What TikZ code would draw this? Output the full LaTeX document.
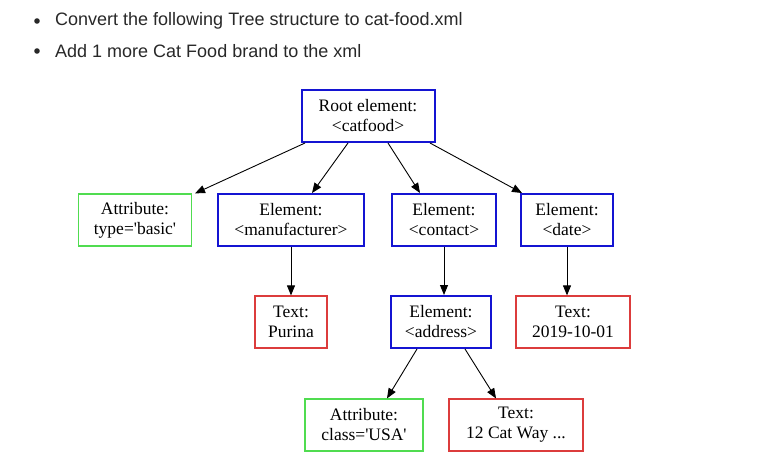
\documentclass[tikz,border=0pt]{standalone}
\usepackage{fontspec}
\setmainfont{Liberation Serif}[Ligatures=TeXOff]
\newfontfamily\sans{Liberation Sans}
\usetikzlibrary{arrows.meta}
\definecolor{bl}{RGB}{20,20,210}
\definecolor{gr}{RGB}{80,220,80}
\definecolor{rd}{RGB}{220,60,60}
\definecolor{tx}{RGB}{40,40,40}
\begin{document}
\begin{tikzpicture}[x=1pt,y=-1pt,
  box/.style={align=center,inner sep=0pt,font=\fontsize{17.5}{20}\selectfont,minimum height=52},
  el/.style={box,draw=bl,line width=2pt},
  atb/.style={box,draw=gr,line width=1.2pt},
  te/.style={box,draw=rd,line width=1.2pt},
  ar/.style={-{Triangle[length=10pt,width=8pt]},line width=0.9pt},
  bul/.style={font=\sans\fontsize{18}{20}\selectfont,text=tx,anchor=west,inner sep=0pt}]
\useasboundingbox (0,0) rectangle (762,467);
\fill[tx] (37,21) circle (2.8) (37,51) circle (2.8);
\node[bul] (b1) at (55,21) {Convert the following Tree structure to cat-food.xml};
\node[bul] (b2) at (55,51) {Add 1 more Cat Food brand to the xml};
\node[el,minimum width=133] (root) at (368,116) {Root element:\\<catfood>};
\node[atb,minimum width=113] (a1) at (135,220) {Attribute:\\type='basic'};
\node[el,minimum width=146] (man) at (291,220) {Element:\\<manufacturer>};
\node[el,minimum width=104] (con) at (444,220) {Element:\\<contact>};
\node[el,minimum width=92] (dat) at (567,220) {Element:\\<date>};
\node[te,minimum width=72] (pur) at (291,322) {Text:\\Purina};
\node[el,minimum width=100] (adr) at (441,322) {Element:\\<address>};
\node[te,minimum width=114] (d19) at (573,322) {Text:\\2019-10-01};
\node[atb,minimum width=118] (a2) at (364,425) {Attribute:\\class='USA'};
\node[te,minimum width=134] (cat) at (516,425) {Text:\\12 Cat Way ...};
\draw[ar] ([xshift=-63]root.south) -- ([xshift=60]a1.north);
\draw[ar] ([xshift=-20]root.south) -- ([xshift=21]man.north);
\draw[ar] ([xshift=20]root.south) -- ([xshift=-24]con.north);
\draw[ar] ([xshift=62]root.south) -- ([xshift=-45]dat.north);
\draw[ar] (man.south) -- (pur.north);
\draw[ar] (con.south) -- ([xshift=3]adr.north);
\draw[ar] (dat.south) -- ([xshift=-6]d19.north);
\draw[ar] ([xshift=-24]adr.south) -- ([xshift=23]a2.north);
\draw[ar] ([xshift=24]adr.south) -- ([xshift=-20]cat.north);
\end{tikzpicture}
\end{document}
